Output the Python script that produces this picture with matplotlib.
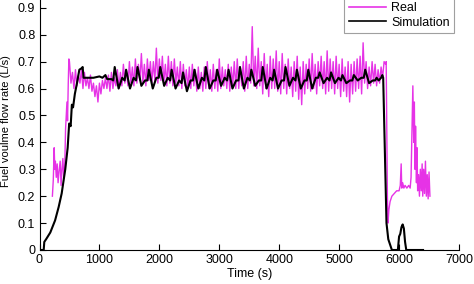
import numpy as np
import matplotlib
matplotlib.use("Agg")
import matplotlib.pyplot as plt

plt.rcParams['font.family'] = ['Liberation Sans', 'DejaVu Sans']

# ---------------- data ----------------
# Real measurement: start-up part (irregular times)
real_start_t = [215, 230, 245, 255, 265, 280, 295, 310, 325, 345, 360, 375, 390,
                405, 420, 435, 450, 458, 468, 480, 490]
real_start_v = [0.20, 0.26, 0.38, 0.30, 0.33, 0.27, 0.32, 0.25, 0.29, 0.33, 0.24,
                0.30, 0.34, 0.27, 0.30, 0.45, 0.52, 0.55, 0.48, 0.62, 0.71]

# Real measurement: steady part, sampled every 25 s from 500 s
real_band_t0 = 500
real_band_dt = 25
real_band_v = [
    0.70, 0.62, 0.66, 0.60, 0.67, 0.61, 0.65, 0.62,
    0.67, 0.60, 0.66, 0.61, 0.64, 0.60, 0.65, 0.59,
    0.62, 0.57, 0.61, 0.55, 0.62, 0.58, 0.63, 0.60,
    0.64, 0.60, 0.65, 0.59, 0.66, 0.60, 0.64, 0.61,
    0.67, 0.60, 0.66, 0.61, 0.69, 0.62, 0.67, 0.61,
    0.70, 0.62, 0.68, 0.61, 0.71, 0.62, 0.69, 0.63,
    0.73, 0.62, 0.69, 0.61, 0.71, 0.63, 0.70, 0.62,
    0.70, 0.63, 0.75, 0.62, 0.71, 0.63, 0.72, 0.62,
    0.69, 0.61, 0.72, 0.62, 0.70, 0.61, 0.71, 0.62,
    0.68, 0.61, 0.70, 0.60, 0.69, 0.61, 0.67, 0.60,
    0.68, 0.60, 0.69, 0.61, 0.67, 0.59, 0.68, 0.60,
    0.66, 0.59, 0.68, 0.60, 0.70, 0.60, 0.67, 0.59,
    0.69, 0.60, 0.67, 0.59, 0.71, 0.60, 0.68, 0.61,
    0.67, 0.60, 0.69, 0.59, 0.68, 0.61, 0.70, 0.60,
    0.71, 0.60, 0.68, 0.61, 0.70, 0.59, 0.72, 0.60,
    0.69, 0.62, 0.83, 0.61, 0.72, 0.60, 0.75, 0.61,
    0.70, 0.58, 0.73, 0.60, 0.69, 0.57, 0.72, 0.60,
    0.71, 0.60, 0.74, 0.59, 0.70, 0.58, 0.73, 0.60,
    0.69, 0.58, 0.71, 0.60, 0.68, 0.57, 0.70, 0.59,
    0.72, 0.56, 0.68, 0.54, 0.70, 0.58, 0.69, 0.60,
    0.71, 0.59, 0.73, 0.60, 0.69, 0.58, 0.70, 0.61,
    0.72, 0.60, 0.70, 0.58, 0.74, 0.59, 0.71, 0.60,
    0.70, 0.58, 0.72, 0.60, 0.69, 0.57, 0.71, 0.59,
    0.68, 0.57, 0.70, 0.55, 0.69, 0.58, 0.70, 0.59,
    0.71, 0.60, 0.72, 0.58, 0.77, 0.62, 0.70, 0.60,
    0.68, 0.61, 0.70, 0.62, 0.69, 0.61, 0.67, 0.62,
    0.68, 0.64, 0.70,
]

# Real measurement: shut-down part
real_end_t = [5775, 5785, 5795, 5805, 5815, 5830, 5850, 5880, 5920, 5960, 6000,
              6020, 6035, 6045, 6060, 6080, 6100, 6130, 6160, 6185, 6200, 6215,
              6230, 6245, 6255, 6265, 6275, 6290, 6300, 6310, 6325, 6340, 6355,
              6370, 6385, 6395, 6410, 6425, 6440, 6455, 6470, 6485, 6500, 6515]
real_end_v = [0.69, 0.70, 0.45, 0.20, 0.10, 0.15, 0.18, 0.20, 0.21, 0.22, 0.22,
              0.24, 0.32, 0.23, 0.25, 0.23, 0.24, 0.23, 0.24, 0.23, 0.27, 0.45,
              0.61, 0.40, 0.55, 0.30, 0.46, 0.25, 0.38, 0.22, 0.28, 0.20, 0.30,
              0.22, 0.32, 0.20, 0.30, 0.21, 0.33, 0.20, 0.28, 0.19, 0.29, 0.20]

# Simulation
sim_t = [0, 70, 80, 110, 180, 260, 320, 370, 430, 470, 495, 520, 540, 560, 590,
         625, 665, 700, 720, 735, 800, 900, 1000, 1050, 1100, 1130, 1200,
         1230, 1255, 1320, 1380,
         1420, 1445, 1510, 1570,
         1610, 1635, 1700, 1760,
         1800, 1825, 1890, 1950,
         1990, 2015, 2080, 2140,
         2180, 2205, 2270, 2330,
         2370, 2395, 2460, 2520,
         2560, 2585, 2650, 2710,
         2750, 2775, 2840, 2900,
         2940, 2965, 3030, 3090,
         3130, 3155, 3220, 3280,
         3320, 3345, 3410, 3470,
         3510, 3535, 3600, 3660,
         3700, 3725, 3790, 3850,
         3890, 3915, 3980, 4040,
         4080, 4105, 4170, 4230,
         4270, 4295, 4360, 4420,
         4460, 4485, 4550, 4610,
         4650, 4675, 4740, 4800,
         4840, 4865, 4930, 4990,
         5030, 5055, 5120, 5180,
         5220, 5245, 5310, 5370,
         5410, 5435, 5500, 5560,
         5600, 5625, 5660,
         5700, 5720, 5735, 5760, 5790, 5820, 5850, 5880, 5980, 6000, 6020,
         6040, 6060, 6080, 6100, 6120, 6400]
sim_v = [0.0, 0.0, 0.03, 0.04, 0.065, 0.11, 0.16, 0.21, 0.30, 0.38, 0.47, 0.46,
         0.54, 0.53, 0.58, 0.62, 0.67, 0.675, 0.68, 0.64, 0.64, 0.64, 0.645, 0.64,
         0.65, 0.635, 0.635,
         0.63, 0.68, 0.60, 0.64,
         0.63, 0.67, 0.60, 0.64,
         0.63, 0.68, 0.61, 0.63,
         0.63, 0.67, 0.60, 0.64,
         0.64, 0.68, 0.61, 0.64,
         0.63, 0.67, 0.60, 0.63,
         0.62, 0.66, 0.59, 0.63,
         0.63, 0.67, 0.60, 0.64,
         0.63, 0.68, 0.60, 0.63,
         0.63, 0.67, 0.61, 0.64,
         0.63, 0.67, 0.60, 0.63,
         0.63, 0.68, 0.60, 0.64,
         0.63, 0.67, 0.61, 0.63,
         0.63, 0.68, 0.60, 0.64,
         0.63, 0.67, 0.60, 0.63,
         0.63, 0.68, 0.61, 0.64,
         0.63, 0.67, 0.60, 0.63,
         0.63, 0.67, 0.60, 0.64,
         0.64, 0.66, 0.62, 0.64,
         0.63, 0.66, 0.62, 0.64,
         0.63, 0.65, 0.62, 0.63,
         0.63, 0.65, 0.63, 0.64,
         0.64, 0.67, 0.62, 0.63,
         0.63, 0.64, 0.63,
         0.64, 0.65, 0.64, 0.40, 0.10, 0.04, 0.02, 0.0, 0.0, 0.05, 0.06,
         0.085, 0.095, 0.08, 0.03, 0.0, 0.0]

x_ticks = [0, 1000, 2000, 3000, 4000, 5000, 6000, 7000]
y_ticks = [0, 0.1, 0.2, 0.3, 0.4, 0.5, 0.6, 0.7, 0.8, 0.9]

# ---------------- assemble real series ----------------
real_band_t = real_band_t0 + real_band_dt * np.arange(len(real_band_v))
real_t = np.concatenate([real_start_t, real_band_t, real_end_t])
real_v = np.concatenate([real_start_v, real_band_v, real_end_v])

# ---------------- plot ----------------
fig = plt.figure(figsize=(4.74, 2.84), dpi=100)
ax = fig.add_axes([39.5 / 474, 1 - 250 / 284, (459 - 39.5) / 474, 250 / 284])

ax.plot(real_t, real_v, color='#E633E6', lw=1.0, label='Real')
ax.plot(sim_t, sim_v, color='black', lw=1.5, label='Simulation')

ax.set_xlim(0, 7000)
ax.set_ylim(0, 0.929)
ax.set_xticks(x_ticks)
ax.set_yticks(y_ticks)
ax.set_yticklabels([f"{v:g}" if v != 0 else "0" for v in y_ticks])
ax.tick_params(direction='in', length=4, width=0.8, labelsize=9, pad=3,
               colors='black')
for s in ['top', 'right']:
    ax.spines[s].set_visible(False)
for s in ['left', 'bottom']:
    ax.spines[s].set_linewidth(0.8)

ax.set_xlabel('Time (s)', fontsize=9, labelpad=1)
ax.set_ylabel('Fuel voulme flow rate (L/s)', fontsize=8, labelpad=3)
ax.yaxis.set_label_coords(-0.068, 0.515)

leg = fig.legend(loc='lower right', bbox_to_anchor=(454 / 474, 1 - 33 / 284),
                 fontsize=9, frameon=True, fancybox=False, handlelength=3.0,
                 handletextpad=0.4, labelspacing=0.2, borderpad=0.35,
                 borderaxespad=0)
leg.get_frame().set_edgecolor('#888888')
leg.get_frame().set_linewidth(0.8)
for line in leg.get_lines():
    line.set_linewidth(1.2)

fig.savefig('out.png', dpi=100)
